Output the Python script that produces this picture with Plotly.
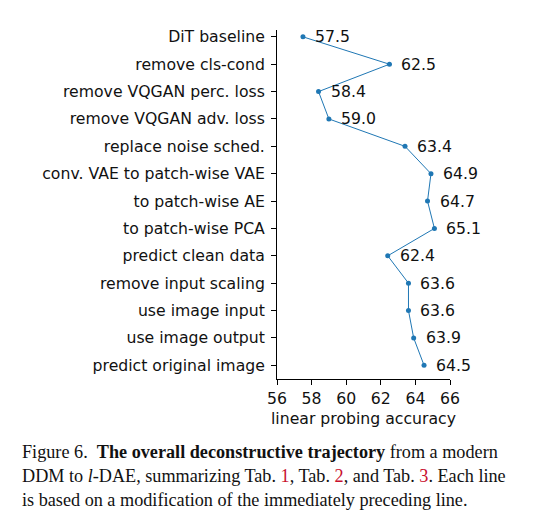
import plotly.graph_objects as go

categories = [
    "DiT baseline", "remove cls-cond", "remove VQGAN perc. loss", "remove VQGAN adv. loss",
    "replace noise sched.", "conv. VAE to patch-wise VAE", "to patch-wise AE",
    "to patch-wise PCA", "predict clean data", "remove input scaling",
    "use image input", "use image output", "predict original image",
]
accuracy = [57.5, 62.5, 58.4, 59.0, 63.4, 64.9, 64.7, 65.1, 62.4, 63.6, 63.6, 63.9, 64.5]
x_ticks = [56, 58, 60, 62, 64, 66]

W, H = 535, 518
L, R, T, B = 277, 85, 30, 139
ph = H - T - B
pw = W - L - R
FS = 15.7

fig = go.Figure()
fig.add_trace(go.Scatter(
    x=accuracy, y=categories, mode="lines+markers",
    line=dict(color="#1f77b4", width=1),
    marker=dict(color="#1f77b4", size=5),
    showlegend=False, hoverinfo="skip",
))

annotations = []
for c, v in zip(categories, accuracy):
    annotations.append(dict(
        x=v, y=c, xref="x", yref="y", text=f"{v:.1f}", showarrow=False,
        xanchor="left", yanchor="middle", xshift=10,
        font=dict(family="DejaVu Sans", size=FS, color="#111111"),
    ))

def py(px):
    return (H - B - px) / ph

def px_x(px):
    return (px - L) / pw

red = "#c8102e"
cap_font = dict(family="Liberation Serif", size=18.2, color="#111111")
caption_lines = [
    "Figure 6.  <b>The overall deconstructive trajectory</b> from a modern",
    f"DDM to <i>l</i>-DAE, summarizing Tab. <span style='color:{red}'>1</span>, Tab. <span style='color:{red}'>2</span>, and Tab. <span style='color:{red}'>3</span>. Each line",
    "is based on a modification of the immediately preceding line.",
]
for i, line in enumerate(caption_lines):
    annotations.append(dict(
        x=px_x(20), y=py(452 + i * 24), xref="paper", yref="paper",
        text=line, showarrow=False, xanchor="left", yanchor="middle",
        font=cap_font, align="left",
    ))

fig.update_layout(
    width=W, height=H,
    margin=dict(l=L, r=R, t=T, b=B),
    paper_bgcolor="white", plot_bgcolor="white",
    annotations=annotations,
    xaxis=dict(
        range=[56, 66], tickvals=x_ticks, ticktext=[str(t) for t in x_ticks],
        showgrid=False, zeroline=False, showline=True, linecolor="black", linewidth=1,
        ticks="outside", ticklen=5, tickcolor="black",
        tickfont=dict(family="DejaVu Sans", size=FS, color="#111111"),
        title=dict(text="linear probing accuracy", standoff=6,
                   font=dict(family="DejaVu Sans", size=FS, color="#111111")),
    ),
    yaxis=dict(
        type="category", categoryorder="array", categoryarray=categories,
        range=[12.5, -0.25],
        showgrid=False, zeroline=False, showline=True, linecolor="black", linewidth=1,
        ticks="outside", ticklen=5, tickcolor="black", ticklabelstandoff=3,
        tickfont=dict(family="DejaVu Sans", size=FS, color="#111111"),
    ),
)

fig.write_html("out.html")
